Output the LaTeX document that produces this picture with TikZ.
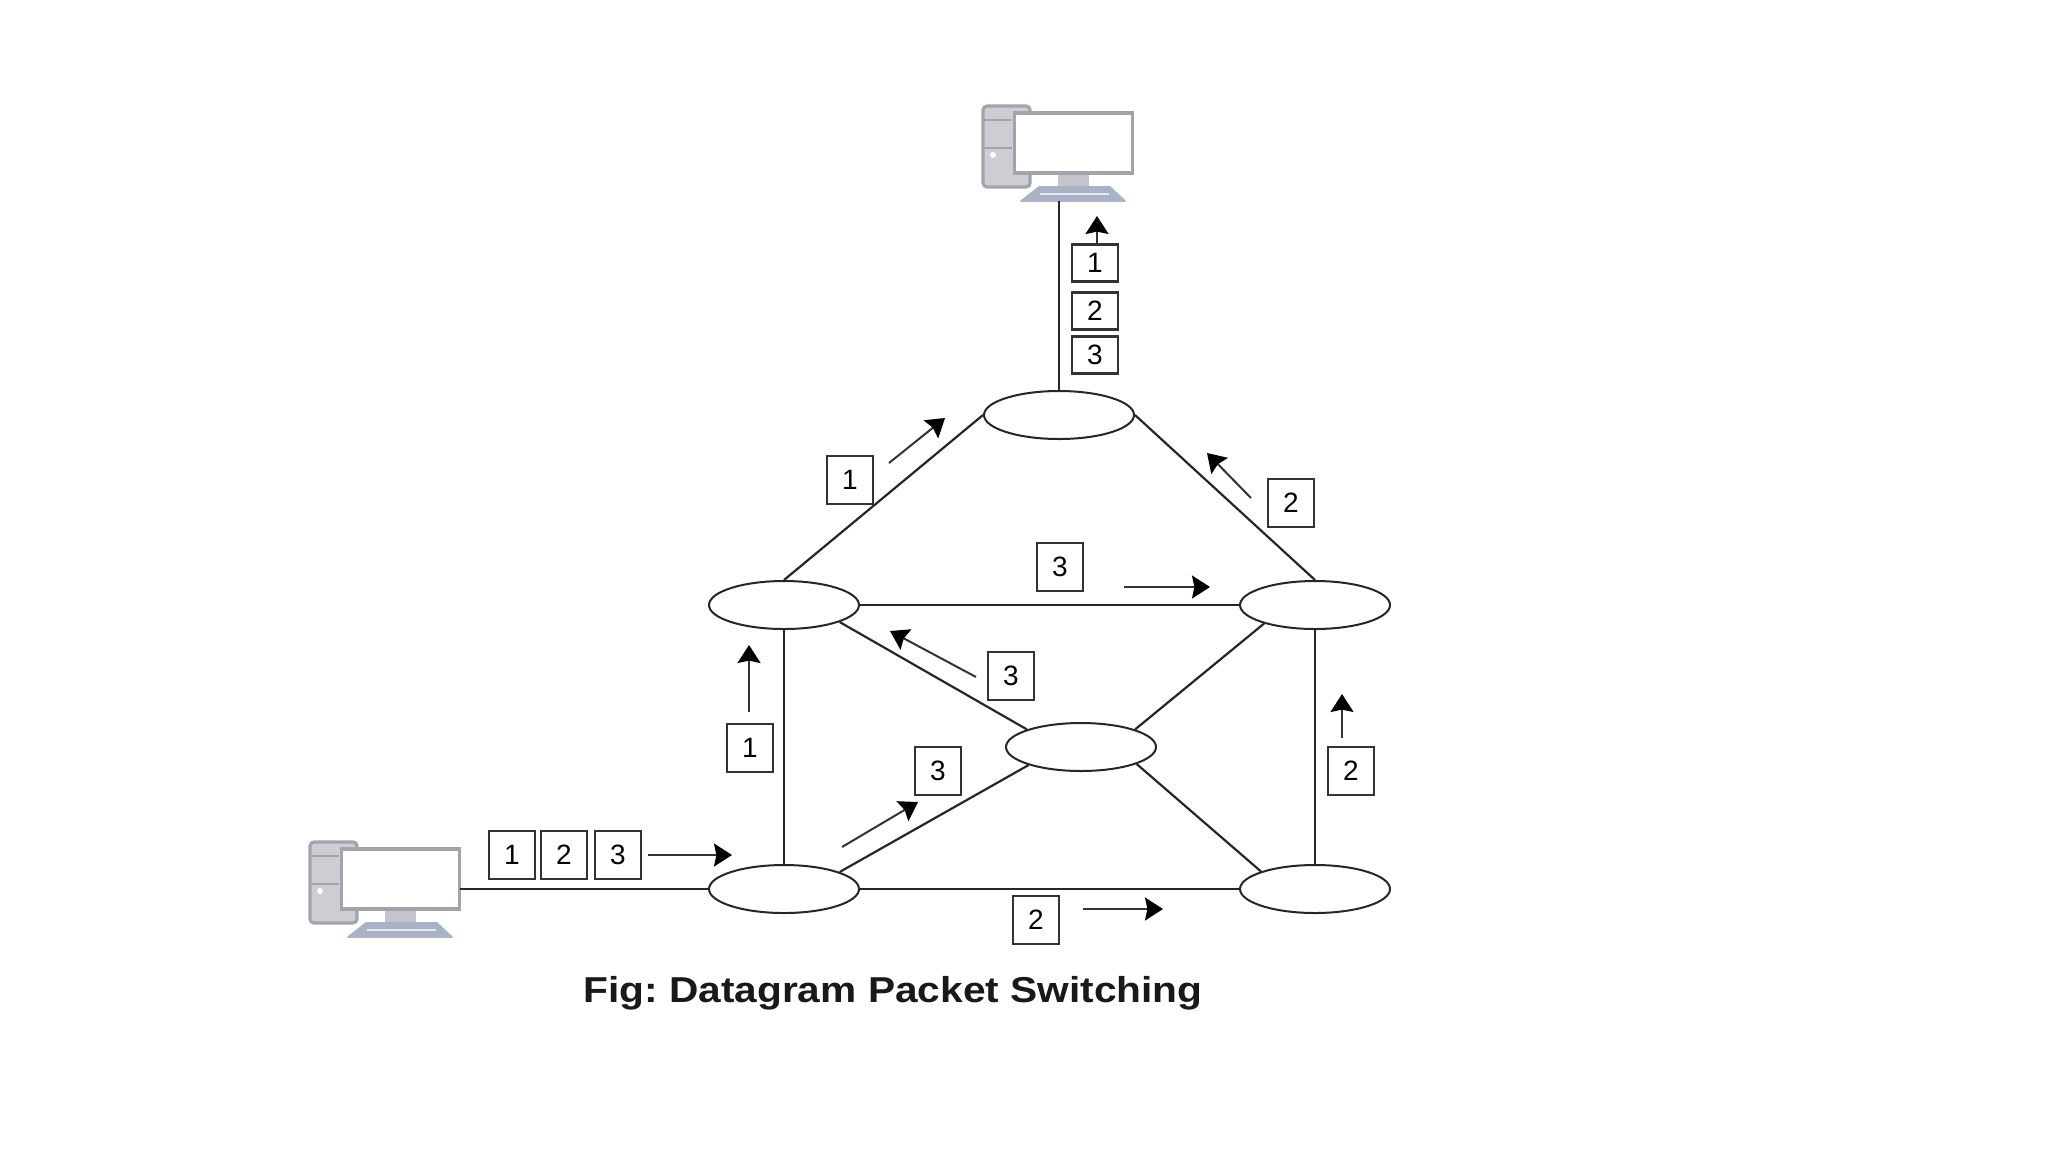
\documentclass[tikz,border=0pt]{standalone}
\usepackage{fontspec}
\setmainfont{Liberation Sans}
\newfontfamily\capfont[FakeStretch=1.13]{Liberation Sans}
\usetikzlibrary{shapes.geometric,arrows.meta}
\definecolor{pcedge}{HTML}{A2A4AC}
\definecolor{pcbody}{HTML}{CDCED4}
\definecolor{pckeys}{HTML}{AAB3C6}
\tikzset{
  computer/.pic={
    \draw[pcedge,fill=pcbody,line width=1.6pt,rounded corners=2pt] (-31,-7) rectangle (16,74);
    \draw[pcedge,line width=1.2pt] (-31,7) -- (-2,7) (-31,35) -- (-2,35);
    \fill[white] (-21,42) circle (1.5pt);
    \fill[pcbody!80!pcedge] (44,60) rectangle (75,74);
    \draw[pckeys,fill=pckeys,line width=.8pt,line join=round] (25,74) -- (96,74) -- (111,88) -- (7,88) -- cycle;
    \draw[white!70!pckeys,line width=.8pt] (26,81) -- (95,81);
    \node[draw=pcedge,fill=white,line width=1.8pt,minimum width=59pt,minimum height=30pt,inner sep=0pt,outer sep=0pt] (-screen) at (59.5,30) {};
    \coordinate (-keys) at (59,88);
  }
}
\begin{document}
\begin{tikzpicture}[x=.5pt,y=-.5pt,>={Stealth[length=9pt,width=11.5pt,inset=1.2pt,black]}]
\tikzstyle{router}=[ellipse,draw=black!85,line width=1pt,fill=white,minimum width=75pt,minimum height=24pt,inner sep=0pt]
\tikzstyle{packet}=[rectangle,draw=black!80,line width=1.1pt,fill=white,minimum width=23pt,minimum height=24pt,inner sep=0pt,font=\fontsize{14}{14}\selectfont]
\tikzstyle{stacked}=[packet,minimum height=18.5pt]
\tikzstyle{link}=[black!85,line width=1.1pt]
\tikzstyle{flow}=[->,black!80,line width=1pt]
\useasboundingbox (0,0) rectangle (2048,1152);

\pic (pcleft) at (341,849) {computer};
\pic (pctop) at (1014,113) {computer};

\node[router] (bl) at (784,889) {};
\node[router] (br) at (1315,889) {};
\node[router] (ml) at (784,605) {};
\node[router] (mr) at (1315,605) {};
\node[router] (mid) at (1081,747) {};
\node[router] (top) at (1059,415) {};

\draw[link] (pcleft-screen.east |- bl.west) -- (bl.west);
\draw[link] (top.north) -- (top.north |- pctop-keys);
\draw[link] (bl.north) -- (ml.south);
\draw[link] (br.north) -- (mr.south);
\draw[link] (bl.east) -- (br.west);
\draw[link] (ml.east) -- (mr.west);
\draw[link] (ml.north) -- (top.west);
\draw[link] (top.east) -- (mr.north);
\draw[link] (ml.-17) -- (mid.162);
\draw[link] (bl.17) -- (mid.199);
\draw[link] (mid.18) -- (mr.200);
\draw[link] (mid.-17) -- (br.162);

\node[packet] (row1) at (512,855) {1};
\node[packet] (row2) at (564,855) {2};
\node[packet] (row3) at (618,855) {3};
\node[stacked] (up1) at (1095,263) {1};
\node[stacked] (up2) at (1095,311) {2};
\node[stacked] (up3) at (1095,355) {3};
\node[packet] (pone) at (850,480) {1};
\node[packet] (ptwo) at (1291,503) {2};
\node[packet] (pthree) at (1060,567) {3};
\node[packet] (pback) at (1011,676) {3};
\node[packet] (pleft) at (750,748) {1};
\node[packet] (plow) at (938,771) {3};
\node[packet] (pright) at (1351,771) {2};
\node[packet] (pbottom) at (1036,920) {2};

\coordinate (rowtip) at (732,855);
\coordinate (uptip) at (1097,216);
\coordinate (onefrom) at (889,463);
\coordinate (onetip) at (945,418);
\coordinate (twofrom) at (1251,498);
\coordinate (twotip) at (1207,453);
\coordinate (threefrom) at (1124,587);
\coordinate (threetip) at (1210,587);
\coordinate (backfrom) at (976,677);
\coordinate (backtip) at (890,631);
\coordinate (leftfrom) at (749,712);
\coordinate (lefttip) at (749,645);
\coordinate (lowfrom) at (842,847);
\coordinate (lowtip) at (918,802);
\coordinate (rightfrom) at (1342,738);
\coordinate (righttip) at (1342,694);
\coordinate (bottomfrom) at (1083,909);
\coordinate (bottomtip) at (1163,909);

\draw[flow] ([xshift=3pt]row3.east) -- (rowtip);
\draw[flow] (up1.north -| uptip) -- (uptip);
\draw[flow] (onefrom) -- (onetip);
\draw[flow] (twofrom) -- (twotip);
\draw[flow] (threefrom) -- (threetip);
\draw[flow] (backfrom) -- (backtip);
\draw[flow] (leftfrom) -- (lefttip);
\draw[flow] (lowfrom) -- (lowtip);
\draw[flow] (rightfrom) -- (righttip);
\draw[flow] (bottomfrom) -- (bottomtip);

\node[font=\fontsize{18}{18}\selectfont\capfont\bfseries\frenchspacing,text=black!90,anchor=base] (caption) at (893,1002) {Fig: Datagram Packet Switching};
\end{tikzpicture}
\end{document}
